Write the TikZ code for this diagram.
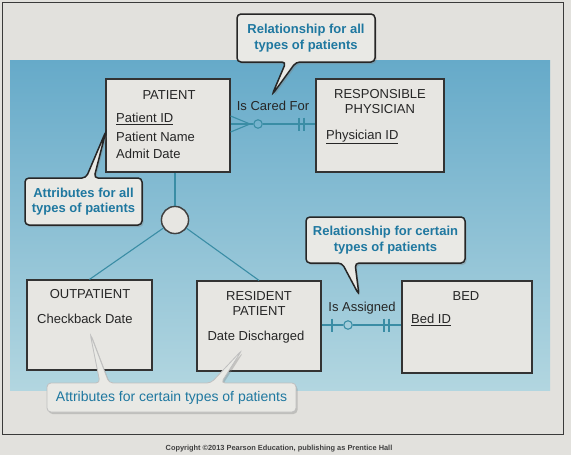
\documentclass[tikz,border=0pt]{standalone}
\usepackage{fontspec}
\setmainfont{Liberation Sans}
\usetikzlibrary{shadows}
\definecolor{bgc}{HTML}{E2E1DD}
\definecolor{framec}{HTML}{3A3A3A}
\definecolor{paneltop}{HTML}{66AAC9}
\definecolor{panelbot}{HTML}{B2D6E0}
\definecolor{entfill}{HTML}{E7E6E2}
\definecolor{callfill}{HTML}{E9E9E5}
\definecolor{tealc}{HTML}{3A8DA5}
\definecolor{calltext}{HTML}{1F78A0}
\begin{document}
\begin{tikzpicture}[x=1pt,y=-1pt,
  entity/.style={draw=black!80, fill=entfill, line width=1.2pt, inner sep=0pt},
  etext/.style={font=\fontsize{13}{15}\selectfont, text=black!85, inner sep=0pt, align=center},
  callout/.style={draw=black!85, fill=callfill, line width=1.5pt, rounded corners=4pt,
     drop shadow={shadow xshift=1.5pt, shadow yshift=-2pt, opacity=0.35}},
  callsoft/.style={draw=black!25, fill=callfill, line width=0.8pt, rounded corners=4pt,
     drop shadow={shadow xshift=1.5pt, shadow yshift=-2pt, opacity=0.35}},
  ctext/.style={font=\bfseries\fontsize{13}{15.5}\selectfont, text=calltext, inner sep=0pt, align=center},
  conn/.style={draw=tealc, line width=1.1pt},
  isa/.style={circle, draw=black!75, fill=entfill, line width=1.3pt, minimum size=27pt, inner sep=0pt}
]
\useasboundingbox (0,0) rectangle (571,455);
\fill[bgc] (0,0) rectangle (571,455);
\draw[framec, line width=0.9pt] (2,2) rectangle (563,434);
\shade[top color=paneltop, bottom color=panelbot] (10,60) rectangle (550,390);

% entities
\node[entity, minimum width=124pt, minimum height=93pt] (patient) at (168,125.5) {};
\node[etext] (patientT) at (169,95) {PATIENT};
\node[etext, anchor=west] (pid) at (116,119) {\underline{Patient ID}};
\node[etext, anchor=west] (pname) at (116,137) {Patient Name};
\node[etext, anchor=west] (padmit) at (116,154) {Admit Date};

\node[entity, minimum width=128pt, minimum height=93pt] (phys) at (380,125.5) {};
\node[etext] (physT) at (380,101.5) {RESPONSIBLE\\PHYSICIAN};
\node[etext, anchor=west] (physid) at (326,137) {\underline{Physician ID}};

\node[entity, minimum width=125pt, minimum height=90pt] (outp) at (89.5,325) {};
\node[etext] (outpT) at (90,294) {OUTPATIENT};
\node[etext, anchor=west] (chk) at (37,319) {Checkback Date};

\node[entity, minimum width=124pt, minimum height=90pt] (resp) at (259,326) {};
\node[etext] (respT) at (259,303) {RESIDENT\\PATIENT};
\node[etext] (disch) at (256,337) {Date Discharged};

\node[entity, minimum width=130pt, minimum height=92pt] (bed) at (467,327) {};
\node[etext] (bedT) at (466,296) {BED};
\node[etext, anchor=west] (bedid) at (411,320) {\underline{Bed ID}};

% Is Cared For
\node[etext] (caredL) at (273,106) {Is Cared For};
\coordinate (c1) at (patient.east |- 0,124);
\coordinate (c2) at (phys.west |- 0,124);
\coordinate (cf) at (250,124);
\node[circle, draw=tealc, line width=1.1pt, minimum size=8.5pt, inner sep=0pt] (co1) at (258,124) {};
\draw[conn] (c1) -- (co1.west);
\draw[conn] (co1.east) -- (c2);
\draw[conn] (c1 |- 0,116) -- (cf) -- (c1 |- 0,132);
\draw[conn] (299,117.5) -- (299,130.5) (304,117.5) -- (304,130.5);

% Is Assigned
\node[etext] (assL) at (362,308) {Is Assigned};
\coordinate (a1) at (resp.east |- 0,325);
\coordinate (a2) at (bed.west |- 0,325);
\node[circle, draw=tealc, line width=1.1pt, minimum size=8.5pt, inner sep=0pt] (co2) at (348,325) {};
\draw[conn] (a1) -- (co2.west);
\draw[conn] (co2.east) -- (a2);
\draw[conn] (332,318.5) -- (332,331.5) (384,318.5) -- (384,331.5) (389,318.5) -- (389,331.5);

% ISA
\node[isa] (isa) at (175,220) {};
\draw[conn] (patient.south -| isa) -- (isa.north);
\draw[conn] (isa) -- (outp.north);
\draw[conn] (isa) -- (resp.north);
\node[isa] at (175,220) {};

% callouts
\draw[callout] (237,14) -- (375,14) -- (375,62) -- (296,62) -- (272,95) -- (286,62) -- (237,62) -- cycle;
\node[ctext] (call1) at (306,38) {Relationship for all\\types of patients};

\draw[callout] (25,178) -- (86,178) -- (106,131) -- (94,178) -- (142,178) -- (142,225) -- (25,225) -- cycle;
\node[ctext] (call2) at (83.5,201.5) {Attributes for all\\types of patients};

\draw[callout] (306,217) -- (465,217) -- (465,263) -- (355,263) -- (359,295) -- (342,263) -- (306,263) -- cycle;
\node[ctext] (call3) at (385.5,240) {Relationship for certain\\types of patients};

\draw[callsoft] (47,383) -- (100,383) -- (90,333) -- (109,383) -- (211,383) -- (242,350) -- (221,383) -- (296,383) -- (296,412) -- (47,412) -- cycle;
\node[ctext, font=\fontsize{14}{16}\selectfont] (call4) at (171.5,397.5) {Attributes for certain types of patients};

\node[font=\bfseries\fontsize{7.4}{8}\selectfont, text=black!75, inner sep=0pt] (copy) at (279,449) {Copyright \textcopyright2013 Pearson Education, publishing as Prentice Hall};
\end{tikzpicture}
\end{document}
